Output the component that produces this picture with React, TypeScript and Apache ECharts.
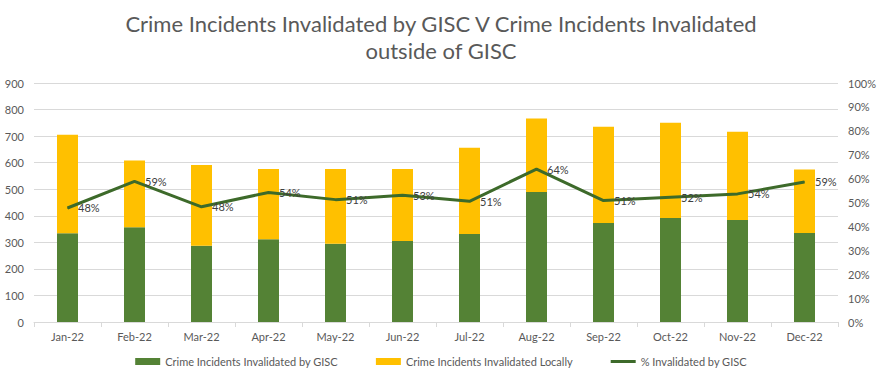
import React, { useEffect, useRef } from "react";
import * as echarts from "echarts";

const months = ["Jan-22", "Feb-22", "Mar-22", "Apr-22", "May-22", "Jun-22", "Jul-22", "Aug-22", "Sep-22", "Oct-22", "Nov-22", "Dec-22"];
const byGISC = [334, 357, 287, 312, 295, 305, 331, 490, 373, 392, 384, 335];
const locally = [371, 251, 304, 264, 281, 271, 325, 276, 362, 358, 332, 239];
const pctGISC = [0.477, 0.588, 0.482, 0.542, 0.512, 0.53, 0.505, 0.64, 0.508, 0.522, 0.536, 0.586];

const titleText = "Crime Incidents Invalidated by GISC V Crime Incidents Invalidated\noutside of GISC";
const FONT = "Lato";

export default function App() {
  const ref = useRef<HTMLDivElement>(null);
  useEffect(() => {
    if (!ref.current) return;
    const chart = echarts.init(ref.current, undefined, { renderer: "svg" });
    chart.setOption({
      animation: false,
      backgroundColor: "#ffffff",
      textStyle: { fontFamily: FONT },
      title: {
        text: titleText,
        left: "center",
        top: 5,
        textStyle: { fontFamily: FONT, fontSize: 22, fontWeight: "normal", color: "#595959", lineHeight: 27 },
      },
      legend: {
        bottom: 6,
        left: "center",
        itemGap: 38,
        itemWidth: 25,
        itemHeight: 7,
        textStyle: { fontFamily: FONT, fontSize: 11, color: "#595959" },
        data: [
          { name: "Crime Incidents Invalidated by GISC", icon: "rect" },
          { name: "Crime Incidents Invalidated Locally", icon: "rect" },
          { name: "% Invalidated by GISC", icon: "path://M0,2h25v3h-25z M0,0h0.01v7h-0.01z", itemStyle: { color: "#3d6a2a" } },
        ],
      },
      grid: { left: 34, right: 44, top: 83, bottom: 56, containLabel: false },
      xAxis: {
        type: "category",
        data: months,
        axisLine: { lineStyle: { color: "#d9d9d9" } },
        axisTick: { show: true, length: 5, lineStyle: { color: "#d9d9d9" } },
        axisLabel: { color: "#595959", fontSize: 11, margin: 9, fontFamily: FONT },
      },
      yAxis: [
        {
          type: "value",
          min: 0,
          max: 900,
          interval: 100,
          axisLine: { show: false },
          axisTick: { show: false },
          axisLabel: { color: "#595959", fontSize: 11, margin: 10, fontFamily: FONT },
          splitLine: { lineStyle: { color: "#d9d9d9" } },
        },
        {
          type: "value",
          min: 0,
          max: 1,
          interval: 0.1,
          axisLine: { show: false },
          axisTick: { show: false },
          splitLine: { show: false },
          axisLabel: {
            color: "#595959",
            fontSize: 11,
            margin: 10,
            fontFamily: FONT,
            formatter: (v: number) => Math.round(v * 100) + "%",
          },
        },
      ],
      series: [
        {
          name: "Crime Incidents Invalidated by GISC",
          type: "bar",
          stack: "total",
          barWidth: 21,
          data: byGISC,
          itemStyle: { color: "#548235" },
        },
        {
          name: "Crime Incidents Invalidated Locally",
          type: "bar",
          stack: "total",
          barWidth: 21,
          data: locally,
          itemStyle: { color: "#ffc000" },
        },
        {
          name: "% Invalidated by GISC",
          type: "line",
          yAxisIndex: 1,
          data: pctGISC,
          symbol: "circle",
          symbolSize: 1,
          lineStyle: { color: "#3d6a2a", width: 3 },
          itemStyle: { color: "#3d6a2a" },
          label: {
            show: true,
            position: "right",
            distance: 10,
            color: "#404040",
            fontSize: 11,
            fontFamily: FONT,
            formatter: (p: any) => Math.round(p.value * 100) + "%",
          },
        },
      ],
    });
    return () => chart.dispose();
  }, []);
  return <div ref={ref} style={{ width: 882, height: 378, position: "absolute", left: 0, top: 0 }} />;
}
